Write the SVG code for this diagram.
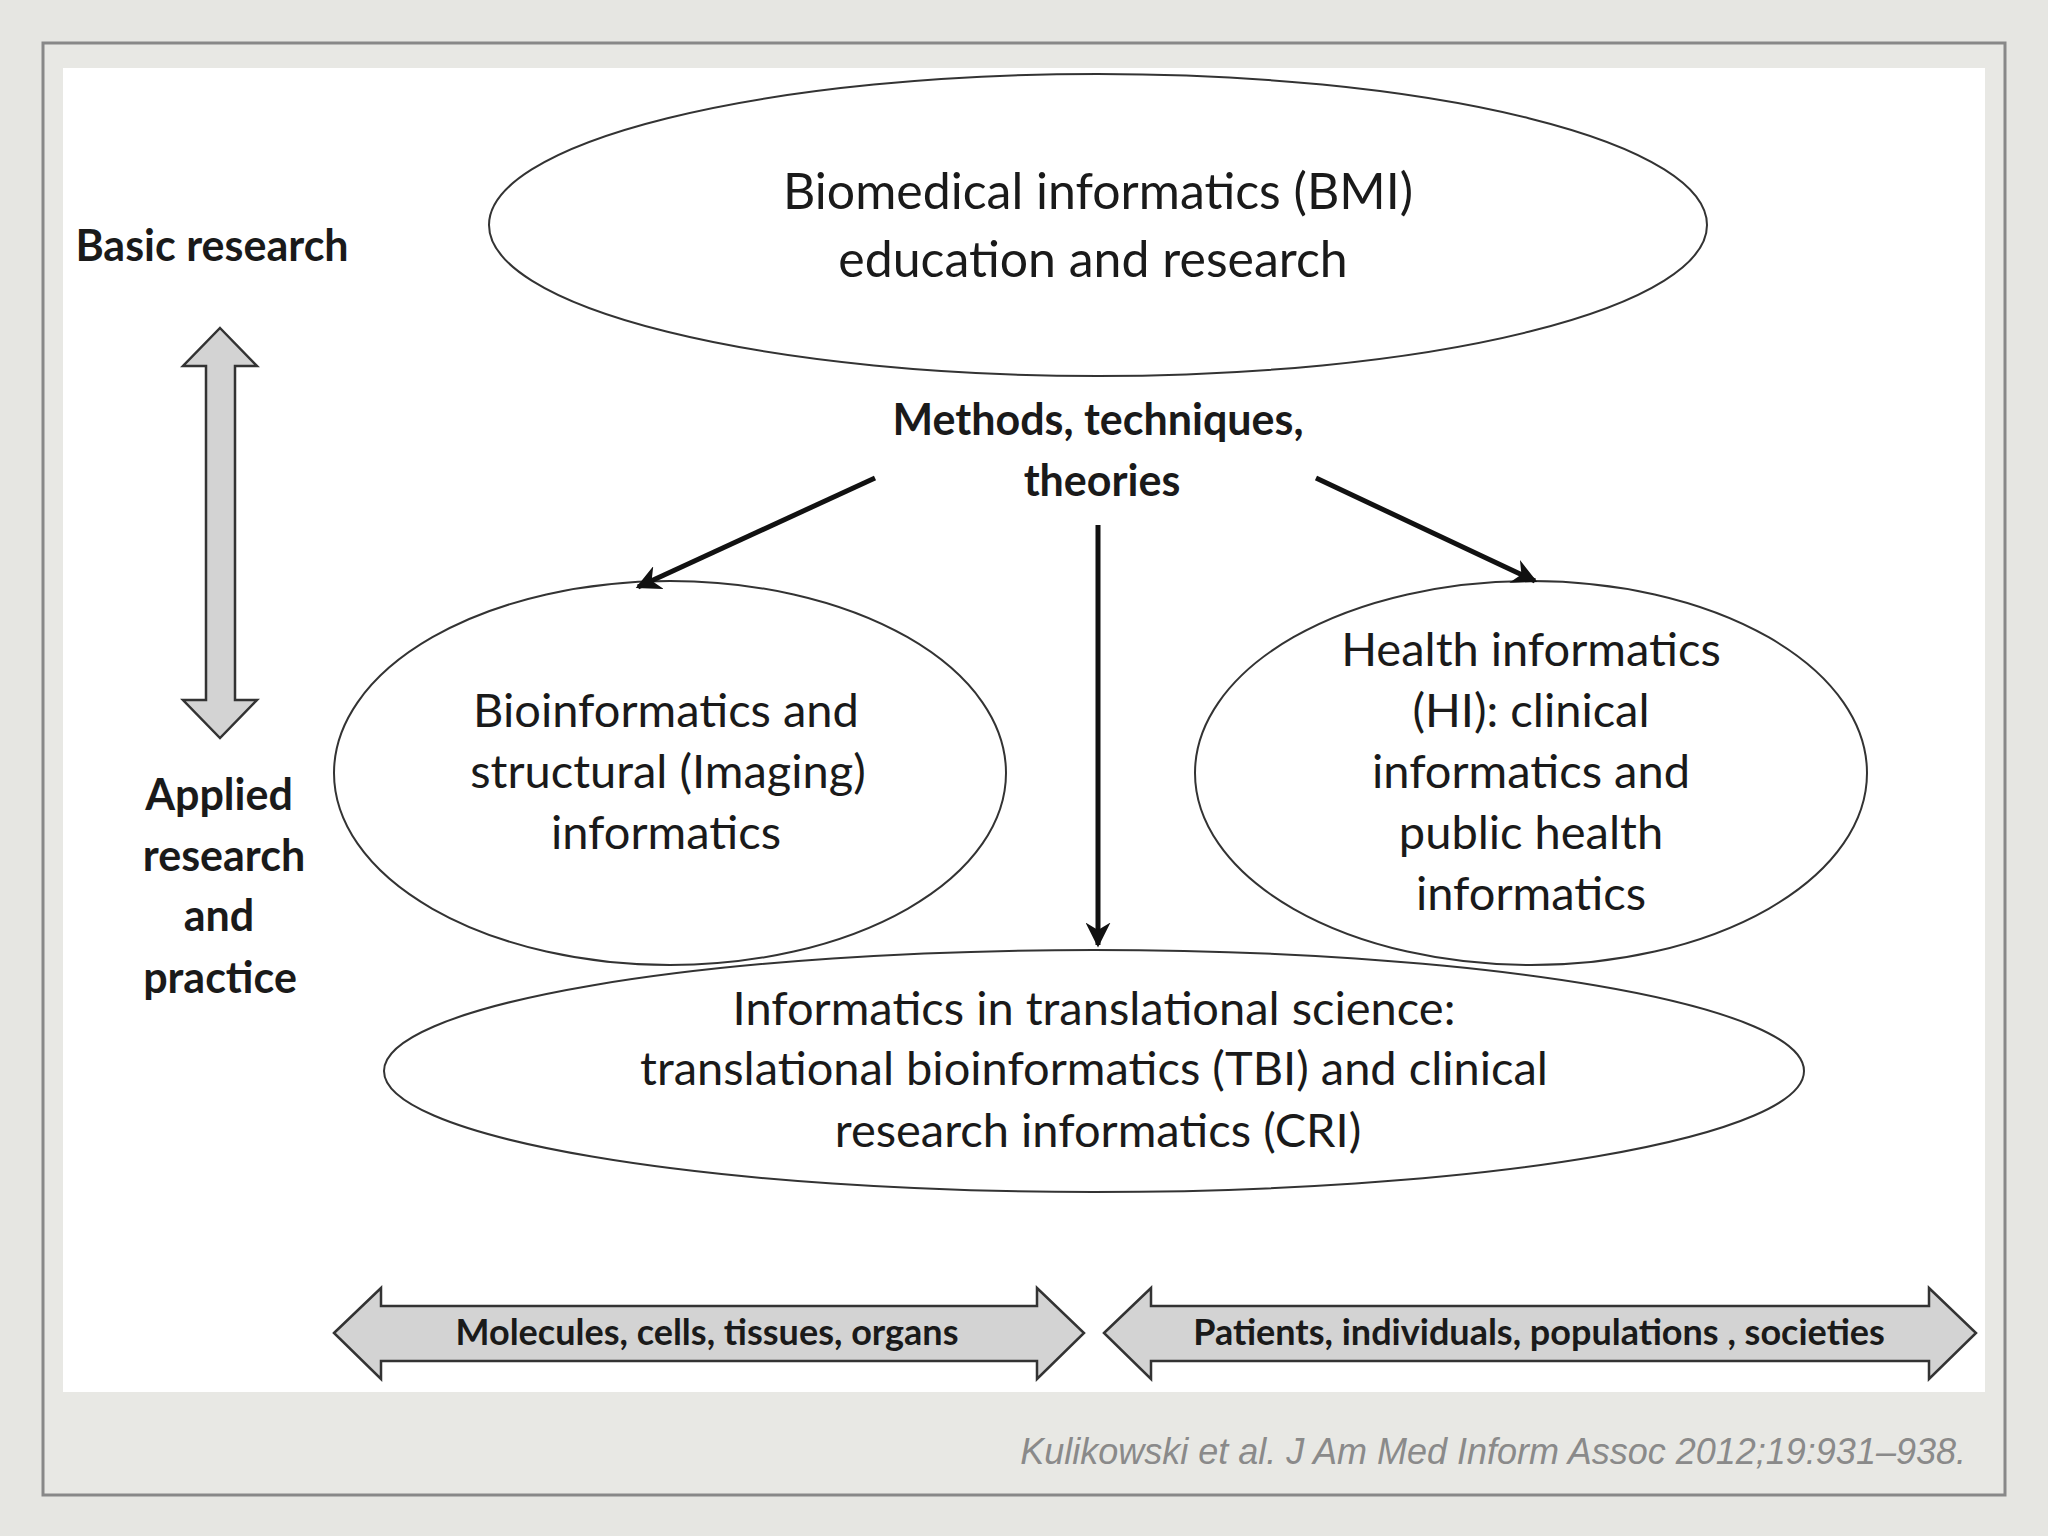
<svg xmlns="http://www.w3.org/2000/svg" width="2048" height="1536" viewBox="0 0 2048 1536">
<defs>
<marker id="ah" viewBox="0 0 10 10" refX="9" refY="5" markerWidth="5" markerHeight="5" orient="auto" markerUnits="strokeWidth"><path d="M0,0 L10,5 L0,10 L3,5 z" fill="#111"/></marker>
<style>
.e{fill:#fff;stroke:#333;stroke-width:2}
.t{font-family:Lato,"Open Sans",sans-serif;fill:#1a1a1a;text-anchor:middle}
.n{font-size:47px}
.b{font-weight:bold;font-size:43px}
.c{stroke:#111;stroke-width:5;fill:none}
.da{fill:#d3d3d3;stroke:#333;stroke-width:2.5}
</style>
</defs>
<rect width="2048" height="1536" fill="#e6e6e2"/>
<rect x="43" y="43" width="1962" height="1452" fill="#e8e8e4" stroke="#888" stroke-width="3"/>
<rect x="63" y="68" width="1922" height="1324" fill="#fff"/>
<text x="1966" y="1464" font-family="Liberation Sans,sans-serif" font-style="italic" font-size="36" fill="#8a8a8a" text-anchor="end">Kulikowski et al. J Am Med Inform Assoc 2012;19:931–938.</text>

<g id="basic"><text class="t b" x="212" y="261" font-size="45">Basic research</text></g>
<g id="vertarrow"><path class="da" d="M220,328 L257,366 L235,366 L235,700 L257,700 L220,738 L183,700 L206,700 L206,366 L183,366 Z"/></g>
<g id="applied"><text class="t b"><tspan x="219" y="810">Applied</tspan><tspan x="224" y="871">research</tspan><tspan x="219" y="931">and</tspan><tspan x="220" y="993">practice</tspan></text></g>

<g id="bmi"><ellipse class="e" cx="1098" cy="225" rx="609" ry="151"/>
<text class="t" font-size="50"><tspan x="1098" y="209">Biomedical informatics (BMI)</tspan><tspan x="1093" y="277">education and research</tspan></text></g>
<g id="methods"><text class="t b"><tspan x="1098" y="435">Methods, techniques,</tspan><tspan x="1102" y="496">theories</tspan></text></g>

<g id="bio"><ellipse class="e" cx="670" cy="773" rx="336" ry="192"/>
<text class="t n"><tspan x="666" y="727">Bioinformatics and</tspan><tspan x="668" y="788">structural (Imaging)</tspan><tspan x="666" y="849">informatics</tspan></text></g>
<g id="hi"><ellipse class="e" cx="1531" cy="773" rx="336" ry="192"/>
<text class="t n"><tspan x="1531" y="666">Health informatics</tspan><tspan x="1531" y="727">(HI): clinical</tspan><tspan x="1531" y="788">informatics and</tspan><tspan x="1531" y="849">public health</tspan><tspan x="1531" y="910">informatics</tspan></text></g>
<g id="trans"><ellipse class="e" cx="1094" cy="1071" rx="710" ry="121"/>
<text class="t n"><tspan x="1094" y="1025">Informatics in translational science:</tspan><tspan x="1094" y="1085">translational bioinformatics (TBI) and clinical</tspan><tspan x="1098" y="1147">research informatics (CRI)</tspan></text></g>

<g id="connectors">
<line class="c" x1="875" y1="478" x2="638" y2="587" marker-end="url(#ah)"/>
<line class="c" x1="1098" y1="525" x2="1098" y2="945" marker-end="url(#ah)"/>
<line class="c" x1="1316" y1="478" x2="1535" y2="581" marker-end="url(#ah)"/>
</g>

<g id="scale-left"><path class="da" d="M334,1333 L381,1288 L381,1306 L1037,1306 L1037,1288 L1084,1333 L1037,1379 L1037,1361 L381,1361 L381,1379 Z"/>
<text class="t" font-weight="bold" font-size="36" x="707" y="1345">Molecules, cells, tissues, organs</text></g>
<g id="scale-right"><path class="da" d="M1104,1333 L1151,1288 L1151,1306 L1929,1306 L1929,1288 L1976,1333 L1929,1379 L1929,1361 L1151,1361 L1151,1379 Z"/>
<text class="t" font-weight="bold" font-size="36" x="1539" y="1345">Patients, individuals, populations , societies</text></g>
</svg>
